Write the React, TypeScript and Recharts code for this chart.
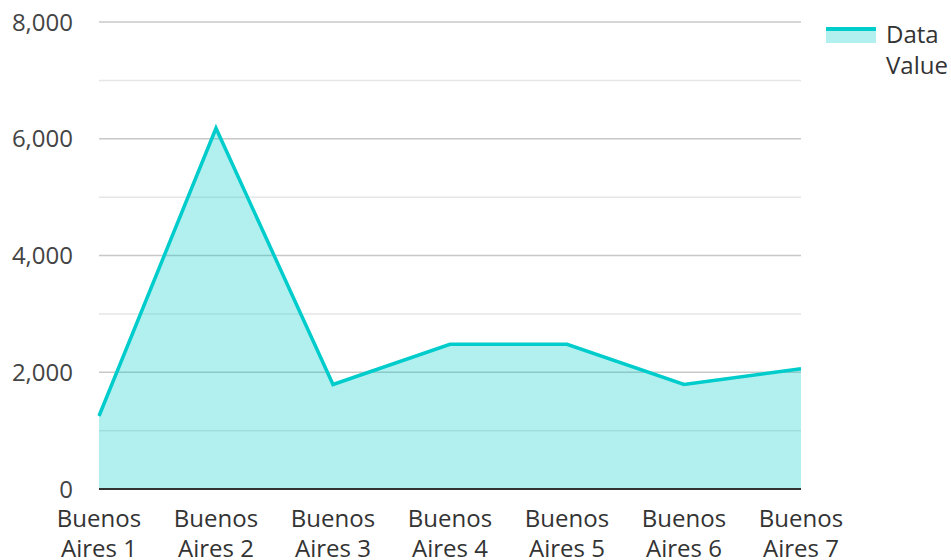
import React from 'react';
import { AreaChart, Area, XAxis, YAxis, CartesianGrid } from 'recharts';

const categories = [
  'Buenos Aires 1',
  'Buenos Aires 2',
  'Buenos Aires 3',
  'Buenos Aires 4',
  'Buenos Aires 5',
  'Buenos Aires 6',
  'Buenos Aires 7',
];
const dataValues = [1250, 6180, 1790, 2480, 2480, 1790, 2060];
const yTicks = [0, 2000, 4000, 6000, 8000];
const minorLines = [1000, 3000, 5000, 7000];

const data = categories.map((name, i) => ({ name, value: dataValues[i] }));

const FONT = '"Open Sans", "Noto Sans", sans-serif';
const COLOR = '#00CCCC';

const XTick = ({ x, y, payload }: any) => {
  const words = String(payload.value).split(' ');
  const first = words[0];
  const second = words.slice(1).join(' ');
  return (
    <text x={x} y={y} textAnchor="middle" fill="#333" fontSize={24} fontFamily={FONT}>
      <tspan x={x} dy={30}>{first}</tspan>
      <tspan x={x} dy={30}>{second}</tspan>
    </text>
  );
};

const App: React.FC = () => {
  return (
    <div style={{ position: 'absolute', left: 0, top: 0, width: 951, height: 560, background: '#fff' }}>
      <AreaChart
        width={951}
        height={560}
        data={data}
        margin={{ top: 22, right: 150, left: 0, bottom: 0 }}
      >
        <CartesianGrid vertical={false} horizontalValues={minorLines} stroke="#e6e6e6" strokeWidth={1.5} />
        <CartesianGrid vertical={false} horizontalValues={yTicks} stroke="#c8c8c8" strokeWidth={1.5} />
        <XAxis
          dataKey="name"
          interval={0}
          tick={<XTick />}
          tickLine={false}
          stroke="#333"
          strokeWidth={2}
          height={71}
        />
        <YAxis
          domain={[0, 8000]}
          ticks={yTicks}
          width={99}
          axisLine={false}
          tickLine={false}
          tickSize={0}
          tickMargin={26}
          tickFormatter={(v: number) => v.toLocaleString('en-US')}
          tick={{ fill: '#444', fontSize: 24, fontFamily: FONT }}
        />
        <Area
          type="linear"
          dataKey="value"
          name="Data Value"
          stroke={COLOR}
          strokeWidth={3.5}
          fill={COLOR}
          fillOpacity={0.3}
          isAnimationActive={false}
        />
      </AreaChart>
      <div
        style={{
          position: 'absolute',
          left: 826,
          top: 18,
          display: 'flex',
          alignItems: 'flex-start',
          fontFamily: FONT,
          fontSize: 24,
          color: '#333',
          lineHeight: '31px',
        }}
      >
        <svg width={50} height={16} style={{ marginTop: 9, marginRight: 10 }}>
          <rect x={0} y={2} width={50} height={14} fill={COLOR} fillOpacity={0.3} />
          <line x1={0} x2={50} y1={2} y2={2} stroke={COLOR} strokeWidth={4} />
        </svg>
        <div style={{ width: 70 }}>Data Value</div>
      </div>
    </div>
  );
};

export default App;
